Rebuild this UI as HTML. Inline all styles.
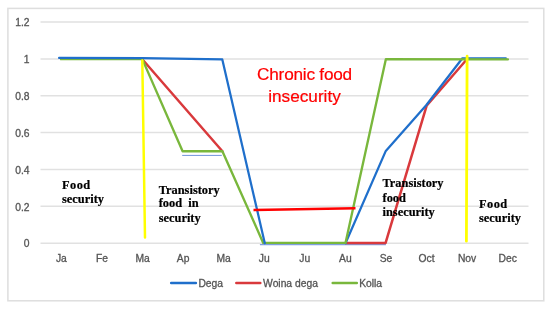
<!DOCTYPE html>
<html><head><meta charset="utf-8"><title>Food security chart</title>
<style>
html,body{margin:0;padding:0;background:#fff;}
body{width:550px;height:309px;overflow:hidden;position:relative;}
svg{position:absolute;left:0;top:0;display:block;}
.ax{font-family:"Liberation Sans",Arial,sans-serif;font-size:10.3px;fill:#555;stroke:#555;stroke-width:0.3px;}
.lg{font-family:"Liberation Sans",Arial,sans-serif;font-size:10.3px;fill:#555;stroke:#555;stroke-width:0.3px;}
.chr{font-family:"Liberation Sans",Arial,sans-serif;font-size:17.2px;fill:#ff0000;stroke:#ff0000;stroke-width:0.2px;}
.tb{font-family:"Liberation Serif","Times New Roman",serif;font-size:12.4px;font-weight:bold;fill:#000;stroke:#000;stroke-width:0.2px;white-space:pre;}
</style></head>
<body>
<svg width="550" height="309" viewBox="0 0 550 309">
<rect x="7.9" y="8.4" width="535.9" height="292.4" fill="#fff" stroke="#dedede" stroke-width="1.5"/>
<line x1="40.5" y1="243.20" x2="528.5" y2="243.20" stroke="#e1e1e1" stroke-width="1.5"/>
<line x1="40.5" y1="206.34" x2="528.5" y2="206.34" stroke="#e1e1e1" stroke-width="1.5"/>
<line x1="40.5" y1="169.48" x2="528.5" y2="169.48" stroke="#e1e1e1" stroke-width="1.5"/>
<line x1="40.5" y1="132.62" x2="528.5" y2="132.62" stroke="#e1e1e1" stroke-width="1.5"/>
<line x1="40.5" y1="95.76" x2="528.5" y2="95.76" stroke="#e1e1e1" stroke-width="1.5"/>
<line x1="40.5" y1="58.90" x2="528.5" y2="58.90" stroke="#e1e1e1" stroke-width="1.5"/>
<line x1="40.5" y1="22.04" x2="528.5" y2="22.04" stroke="#e1e1e1" stroke-width="1.5"/>
<text x="29.6" y="247.40" text-anchor="end" class="ax">0</text>
<text x="29.6" y="210.54" text-anchor="end" class="ax">0.2</text>
<text x="29.6" y="173.68" text-anchor="end" class="ax">0.4</text>
<text x="29.6" y="136.82" text-anchor="end" class="ax">0.6</text>
<text x="29.6" y="99.96" text-anchor="end" class="ax">0.8</text>
<text x="29.6" y="63.10" text-anchor="end" class="ax">1</text>
<text x="29.6" y="26.24" text-anchor="end" class="ax">1.2</text>
<text x="61.40" y="261.8" text-anchor="middle" class="ax">Ja</text>
<text x="101.97" y="261.8" text-anchor="middle" class="ax">Fe</text>
<text x="142.54" y="261.8" text-anchor="middle" class="ax">Ma</text>
<text x="183.11" y="261.8" text-anchor="middle" class="ax">Ap</text>
<text x="223.68" y="261.8" text-anchor="middle" class="ax">Ma</text>
<text x="264.25" y="261.8" text-anchor="middle" class="ax">Ju</text>
<text x="304.82" y="261.8" text-anchor="middle" class="ax">Ju</text>
<text x="345.39" y="261.8" text-anchor="middle" class="ax">Au</text>
<text x="385.96" y="261.8" text-anchor="middle" class="ax">Se</text>
<text x="426.53" y="261.8" text-anchor="middle" class="ax">Oct</text>
<text x="467.10" y="261.8" text-anchor="middle" class="ax">Nov</text>
<text x="507.67" y="261.8" text-anchor="middle" class="ax">Dec</text>
<line x1="182.2" y1="155.4" x2="221.8" y2="155.4" stroke="#6f93dc" stroke-width="1"/>
<line x1="259.9" y1="244.6" x2="385.9" y2="244.6" stroke="#7f9fe0" stroke-width="1.2"/>
<polyline points="142.30,59.20 222.40,151.20" fill="none" stroke="#d9393c" stroke-width="2.5" stroke-linejoin="round" stroke-linecap="round"/>
<polyline points="345.50,242.90 385.60,242.90 426.60,105.80 465.60,60.80" fill="none" stroke="#d9393c" stroke-width="2.5" stroke-linejoin="round" stroke-linecap="round"/>
<polyline points="345.50,243.20 385.80,150.90 426.20,105.30 462.40,58.30 505.80,58.30" fill="none" stroke="#1f6fcb" stroke-width="2.25" stroke-linejoin="round" stroke-linecap="round"/>
<polyline points="61.10,59.15 142.30,59.10 182.60,151.20 222.40,151.20 263.20,242.90 345.50,242.90 385.90,59.10 507.90,59.30" fill="none" stroke="#79b73c" stroke-width="2.35" stroke-linejoin="round" stroke-linecap="round"/>
<polyline points="59.10,57.90 142.30,58.10 222.30,59.40 264.80,243.20" fill="none" stroke="#1f6fcb" stroke-width="2.25" stroke-linejoin="round" stroke-linecap="round"/>
<line x1="142.3" y1="60.5" x2="145" y2="237.4" stroke="#ffff00" stroke-width="2.5" stroke-linecap="round"/>
<line x1="467.1" y1="56.2" x2="466.4" y2="241.2" stroke="#ffff00" stroke-width="2.8" stroke-linecap="round"/>
<line x1="253.5" y1="210" x2="355.5" y2="208.2" stroke="#ff0000" stroke-width="2.6"/>
<line x1="171.2" y1="283.1" x2="195.9" y2="283.1" stroke="#1f6fcb" stroke-width="2.5" stroke-linecap="round"/>
<text x="198.4" y="287.3" class="lg">Dega</text>
<line x1="236.3" y1="283.1" x2="260.3" y2="283.1" stroke="#d9393c" stroke-width="2.5" stroke-linecap="round"/>
<text x="263.1" y="287.3" class="lg">Woina dega</text>
<line x1="332.7" y1="283.1" x2="356.8" y2="283.1" stroke="#79b73c" stroke-width="2.5" stroke-linecap="round"/>
<text x="359.2" y="287.3" class="lg">Kolla</text>
<text x="304.5" y="80.1" text-anchor="middle" class="chr" letter-spacing="-0.22">Chronic food</text>
<text x="304.5" y="102.0" text-anchor="middle" class="chr">insecurity</text>
<text x="62" y="189.3" class="tb" letter-spacing="0.45" xml:space="preserve">Food</text>
<text x="62" y="203.1" class="tb" xml:space="preserve">security</text>
<text x="158.7" y="193.6" class="tb" xml:space="preserve">Transistory</text>
<text x="158.7" y="207.3" class="tb" xml:space="preserve">food  in</text>
<text x="158.7" y="221.6" class="tb" xml:space="preserve">security</text>
<text x="382.5" y="187.3" class="tb" xml:space="preserve">Transistory</text>
<text x="382.5" y="201.5" class="tb" xml:space="preserve">food</text>
<text x="382.5" y="216" class="tb" xml:space="preserve">insecurity</text>
<text x="479" y="207.7" class="tb" letter-spacing="0.45" xml:space="preserve">Food</text>
<text x="479" y="222.1" class="tb" xml:space="preserve">security</text>
</svg>
</body></html>
